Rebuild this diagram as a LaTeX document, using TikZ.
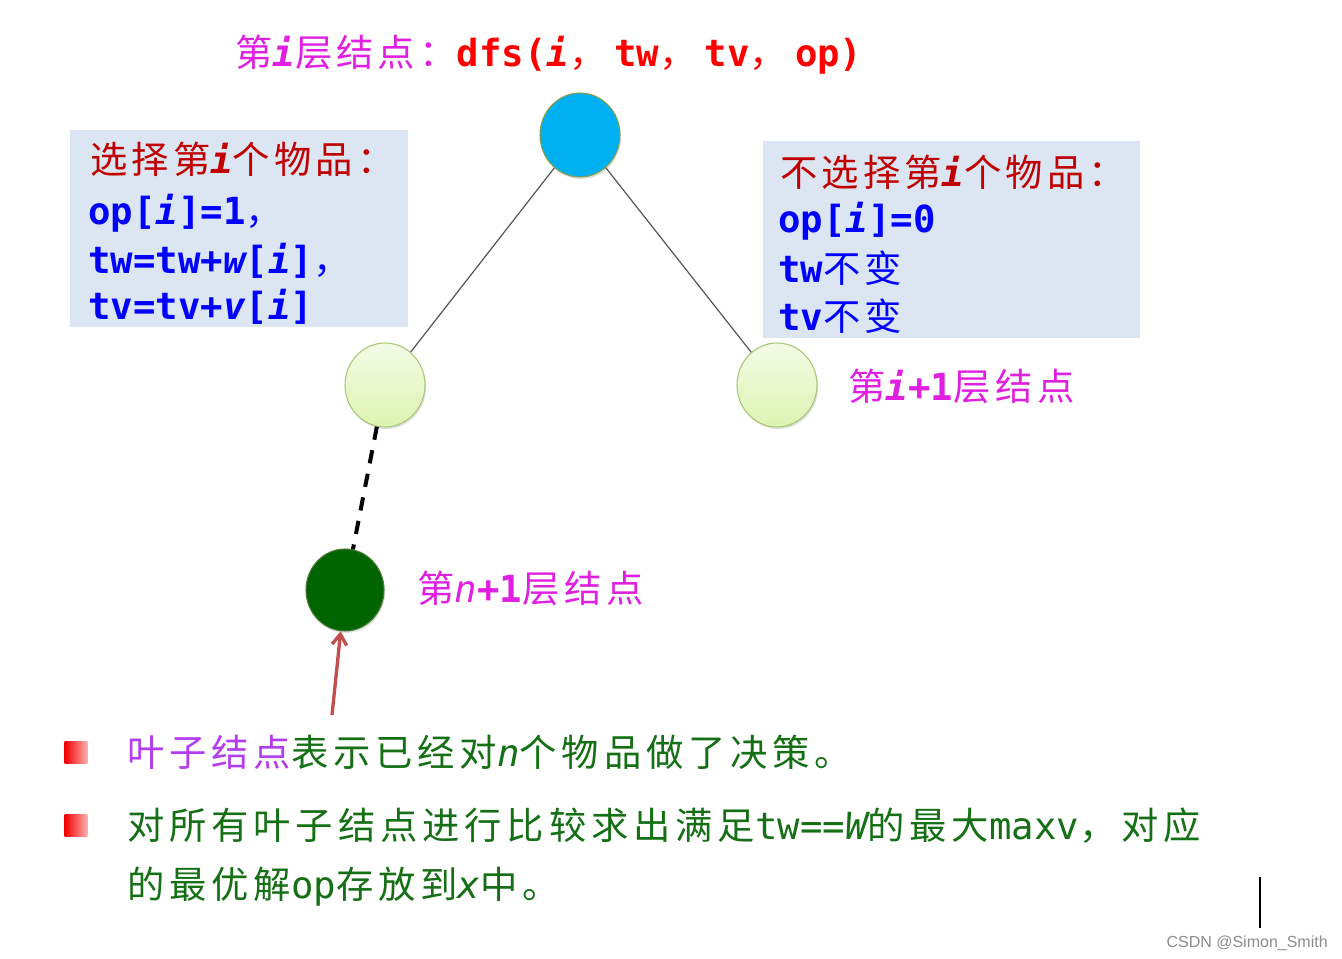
\documentclass[tikz,border=0pt]{standalone}
\usepackage{fontspec}
\usetikzlibrary{shapes.geometric,arrows.meta,shadows}
\setmainfont{Liberation Sans}
\newfontfamily\zhfont[LetterSpace=11]{Noto Sans CJK SC}
\newfontfamily\zhwfont[LetterSpace=13]{Noto Sans CJK SC}
\newfontfamily\monofont{DejaVu Sans Mono}
\newcommand{\zh}[1]{{\zhfont #1}}
\newcommand{\zhw}[1]{{\zhwfont #1}}
\newcommand{\cd}[1]{{\monofont\bfseries #1}}
\newcommand{\ci}[1]{{\monofont\bfseries\itshape #1}}
\newcommand{\cn}[1]{{\monofont #1}}
\newcommand{\cni}[1]{{\monofont\itshape #1}}
\definecolor{mag}{HTML}{E020E0}
\definecolor{tred}{HTML}{FF0000}
\definecolor{dred}{HTML}{C00000}
\definecolor{cblue}{HTML}{0000FF}
\definecolor{boxfill}{HTML}{DCE6F2}
\definecolor{nblue}{HTML}{00B0F0}
\definecolor{nblueb}{HTML}{8C9E4A}
\definecolor{lgtop}{HTML}{F4FBE6}
\definecolor{lgbot}{HTML}{DCF4B2}
\definecolor{lgb}{HTML}{A9C775}
\definecolor{dgreen}{HTML}{006400}
\definecolor{dgreenb}{HTML}{4E7A3A}
\definecolor{tgreen}{HTML}{157015}
\definecolor{purp}{HTML}{B43CF0}
\definecolor{arrowc}{HTML}{C0504D}
\definecolor{edgec}{HTML}{555555}
\tikzset{
  txt/.style={inner sep=0pt, anchor=base west, font=\fontsize{28}{32}\selectfont},
  boxbg/.style={fill=boxfill, draw=none, anchor=north west, inner sep=0pt},
  treenode/.style={ellipse, inner sep=0pt, minimum width=60pt, minimum height=63pt,
    drop shadow={shadow xshift=0.8pt, shadow yshift=-1.5pt, opacity=0.25}},
  rootnode/.style={treenode, fill=nblue, draw=nblueb, line width=0.8pt},
  childnode/.style={treenode, top color=lgtop, bottom color=lgbot, draw=lgb, line width=0.8pt},
  leafnode/.style={treenode, fill=dgreen, draw=dgreenb, line width=0.8pt, minimum width=58.5pt, minimum height=61.5pt},
  edge/.style={draw=edgec, line width=0.9pt},
  bullet/.style={rectangle, inner sep=0pt, minimum width=17pt, minimum height=16.5pt,
    left color=red!95!black, right color={rgb,255:red,255;green,175;blue,175}},
}
\begin{document}
\begin{tikzpicture}[x=0.75pt,y=-0.75pt]
\path[fill=white,use as bounding box] (0,0) rectangle (1342,959);

% title
\node[txt] (title) at (235,67) {\textcolor{mag}{\zh{第}\ci{i}\zh{层结点：}}\textcolor{tred}{\cd{dfs(}\ci{i}\zh{，}\hspace{6pt}\cd{tw}\zh{，}\hspace{6pt}\cd{tv}\zh{，}\hspace{6pt}\cd{op)}}};

% boxes
\node[boxbg, minimum width=253.5pt, minimum height=147.75pt] (box1) at (70,130) {};
\node[boxbg, minimum width=282.75pt, minimum height=147.75pt] (box2) at (763,141) {};

\node[txt] (b1a) at (90,174) {\textcolor{dred}{\zh{选择第}\ci{i}\zh{个物品：}}};
\node[txt] (b1b) at (88,225) {\textcolor{cblue}{\cd{op[}\ci{i}\cd{]=1}\zh{，}}};
\node[txt] (b1c) at (88,274) {\textcolor{cblue}{\cd{tw=tw+}\ci{w}\cd{[}\ci{i}\cd{]}\zh{，}}};
\node[txt] (b1d) at (88,320) {\textcolor{cblue}{\cd{tv=tv+}\ci{v}\cd{[}\ci{i}\cd{]}}};

\node[txt] (b2a) at (780,187) {\textcolor{dred}{\zh{不选择第}\ci{i}\zh{个物品：}}};
\node[txt] (b2b) at (778,233) {\textcolor{cblue}{\cd{op[}\ci{i}\cd{]=0}}};
\node[txt] (b2c) at (778,282) {\textcolor{cblue}{\cd{tw}\zh{不变}}};
\node[txt] (b2d) at (778,330) {\textcolor{cblue}{\cd{tv}\zh{不变}}};

% tree
\node[rootnode] (root) at (580,135) {};
\node[childnode] (left) at (385,385) {};
\node[childnode] (right) at (777,385) {};
\node[leafnode] (leaf) at (345,590) {};

\draw[edge] (root) -- (left);
\draw[edge] (root) -- (right);
\draw[line width=3pt, dash pattern=on 10pt off 8pt] (left) -- (leaf);

\node[txt] (lvl) at (848,400) {\textcolor{mag}{\zhw{第}\ci{i}\cd{+1}\zhw{层结点}}};
\node[txt] (leaflbl) at (417,602) {\textcolor{mag}{\zhw{第}\cni{n}\cd{+1}\zhw{层结点}}};

\coordinate (a0) at (332,715);
\draw[arrowc, line width=2.5pt, -{Straight Barb[length=8pt,width=11pt]}] (a0) -- (leaf);

% bullets
\node[bullet] (bul1) at (76,752) {};
\node[bullet] (bul2) at (76,825) {};

\node[txt] (t1) at (127,766) {\textcolor{purp}{\zhw{叶子结点}}\textcolor{tgreen}{\zhw{表示已经对}\cni{n}\zhw{个物品做了决策。}}};
\node[txt] (t2) at (127,839) {\textcolor{tgreen}{\zhw{对所有叶子结点进行比较求出满足}\cn{tw==}\cni{W}\zhw{的最大}\cn{maxv}\zhw{，对应}}};
\node[txt] (t3) at (127,898) {\textcolor{tgreen}{\zhw{的最优解}\cn{op}\zhw{存放到}\cni{x}\zhw{中。}}};

% cursor line
\coordinate (v1) at (1260,877);
\coordinate (v2) at (1260,928);
\draw[line width=1.4pt] (v1) -- (v2);

\node[inner sep=0pt, anchor=base east, font=\fontsize{12}{14}\selectfont, text=black!45] (wm) at (1328,947) {CSDN @Simon\_Smith};
\end{tikzpicture}
\end{document}
